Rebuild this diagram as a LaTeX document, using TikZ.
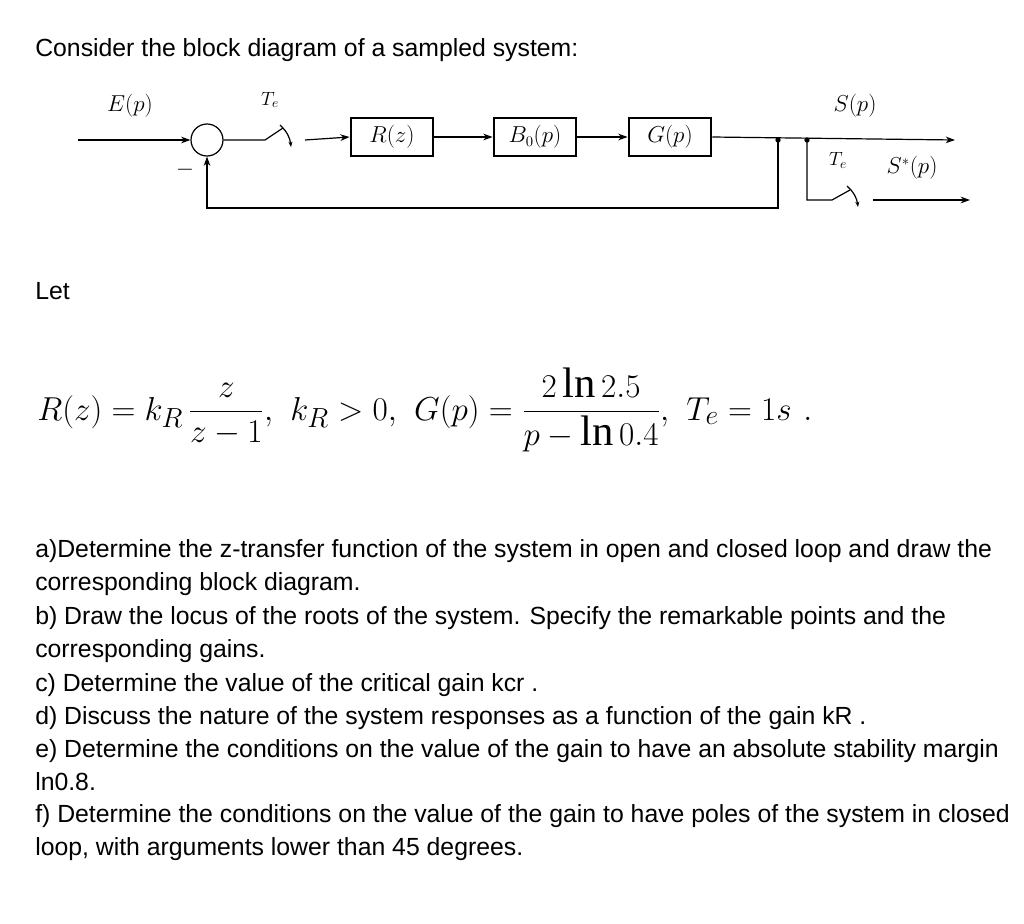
\documentclass[tikz,border=0pt]{standalone}
\usepackage{amsmath}
\usepackage{fontspec}
\setmainfont{Liberation Sans}
\newfontfamily\tms{Liberation Serif}
\usetikzlibrary{arrows.meta}
\newcommand{\lnn}{\mathop{\text{\tms ln}}}
\begin{document}
\begin{tikzpicture}[x=0.75pt,y=-0.75pt,
  txt/.style={anchor=base west,inner sep=0,font=\fontsize{18.6}{22}\selectfont},
  blk/.style={draw,line width=1.6pt,minimum width=62pt,minimum height=28pt,inner sep=0,font=\fontsize{16}{18}\selectfont},
  lab/.style={inner sep=0,font=\fontsize{16}{18}\selectfont},
  tel/.style={inner sep=0,font=\fontsize{14}{16}\selectfont},
  sig/.style={line width=0.9pt},
  arr/.style={sig,-{Stealth[length=7pt,width=5pt]}}]
\useasboundingbox (0,0) rectangle (1024,924);
\node[txt] (t0) at (35,57) {Consider the block diagram of a sampled system:};
% diagram
\coordinate (in) at (78,140);
\node[draw,circle,minimum size=24pt,inner sep=0,line width=0.9pt] (sum) at (207,140) {};
\node[lab] (Ep) at (130,106) {$E(p)$};
\node[lab] (mn) at (185,170) {$-$};
\coordinate (sw1a) at (265,140);
\coordinate (sw1b) at (283,128);
\coordinate (sw1c) at (305,140);
\node[tel] (Te1) at (270,100) {$T_e$};
\node[blk] (R) at (392,137) {$R(z)$};
\node[blk] (B) at (535,137) {$B_0(p)$};
\node[blk] (G) at (670,137) {$G(p)$};
\coordinate (j1) at (778,140);
\coordinate (j2) at (807,140);
\coordinate (out) at (955,140);
\node[lab] (Sp) at (855,106) {$S(p)$};
\coordinate (s2) at (807,200);
\coordinate (sw2a) at (832,200);
\coordinate (sw2b) at (850,190);
\coordinate (sw2c) at (873,200);
\coordinate (out2) at (970,200);
\node[tel] (Te2) at (838,160) {$T_e$};
\node[lab] (Ss) at (912,168) {$S^{*}(p)$};
\coordinate (fb) at (778,208);
\coordinate (fb2) at (207,208);
\draw[arr] (in) -- (sum.west);
\draw[sig] (sum.east) -- (sw1a) -- (sw1b);
\draw[sig,-{Stealth[length=4pt,width=3pt]}] (280,125) to[bend left=20] (291,147);
\draw[arr] (sw1c) -- (R.west);
\draw[arr] (R.east) -- (B.west);
\draw[arr] (B.east) -- (G.west);
\draw[arr] (G.east) -- (out);
\fill (j1) circle (2pt) (j2) circle (2pt);
\draw[sig] (j2) -- (s2) -- (sw2a) -- (sw2b);
\draw[sig,-{Stealth[length=4pt,width=3pt]}] (847,186) to[bend left=20] (858,207);
\draw[arr] (sw2c) -- (out2);
\draw[arr] (j1) -- (fb) -- (fb2) -- (sum.south);
\node[txt] (let) at (35,299) {Let};
\node[anchor=base west,inner sep=0] (eq) at (37,420) {\fontsize{32}{36}\selectfont $R(z)=k_R\,\dfrac{z}{z-1},\ k_R>0,\ G(p)=\dfrac{2\lnn 2.5}{p-\lnn 0.4},\ T_e=1s\ .$};
\node[txt] (a1) at (35,557) {a)Determine the z-transfer function of the system in open and closed loop and draw the};
\node[txt] (a2) at (35,590) {corresponding block diagram.};
\node[txt] (b1) at (35,624) {b) Draw the locus of the roots of the system. Specify the remarkable points and the};
\node[txt] (b2) at (35,657) {corresponding gains.};
\node[txt] (c1) at (35,691) {c) Determine the value of the critical gain kcr .};
\node[txt] (d1) at (35,724) {d) Discuss the nature of the system responses as a function of the gain kR .};
\node[txt] (e1) at (35,757) {e) Determine the conditions on the value of the gain to have an absolute stability margin};
\node[txt] (e2) at (35,790) {ln0.8.};
\node[txt] (f1) at (35,822) {f) Determine the conditions on the value of the gain to have poles of the system in closed};
\node[txt] (f2) at (35,855) {loop, with arguments lower than 45 degrees.};
\end{tikzpicture}
\end{document}
